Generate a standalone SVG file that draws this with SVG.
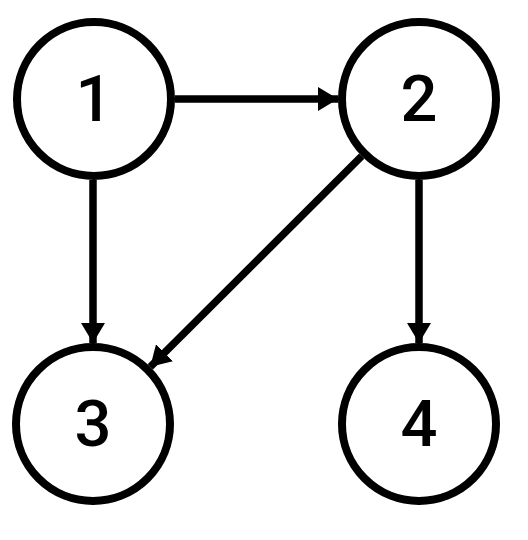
<svg xmlns="http://www.w3.org/2000/svg" width="528" height="540" viewBox="0 0 528 540">
<style>
.node circle{fill:#fff;stroke:#000;stroke-width:8}
.node text{font-family:Roboto,"Liberation Sans",sans-serif;font-size:65px;font-weight:500;fill:#000;text-anchor:middle;dominant-baseline:central}
.edge{stroke:#000;stroke-width:7.5;fill:none;marker-end:url(#arrow)}
</style>
<defs>
<marker id="arrow" viewBox="0 0 20 24" markerWidth="20" markerHeight="24" refX="20" refY="12" orient="auto" markerUnits="userSpaceOnUse">
<path d="M0,0 L20,12 L0,24 z" fill="#000"/>
</marker>
</defs>
<rect width="528" height="540" fill="#fff"/>
<g id="connectors">
<path class="edge" d="M175,99 L338,99"/>
<path class="edge" d="M93,180 L93,343"/>
<path class="edge" d="M419,180 L419,343"/>
<path class="edge" d="M361.7,156.2 L150.3,366.8"/>
</g>
<g id="node1" class="node"><circle cx="94" cy="99" r="77"/><text x="94" y="99">1</text></g>
<g id="node2" class="node"><circle cx="419" cy="99" r="77"/><text x="419" y="99">2</text></g>
<g id="node3" class="node"><circle cx="93" cy="424" r="77"/><text x="93" y="424">3</text></g>
<g id="node4" class="node"><circle cx="419" cy="424" r="77"/><text x="419" y="424">4</text></g>
</svg>
